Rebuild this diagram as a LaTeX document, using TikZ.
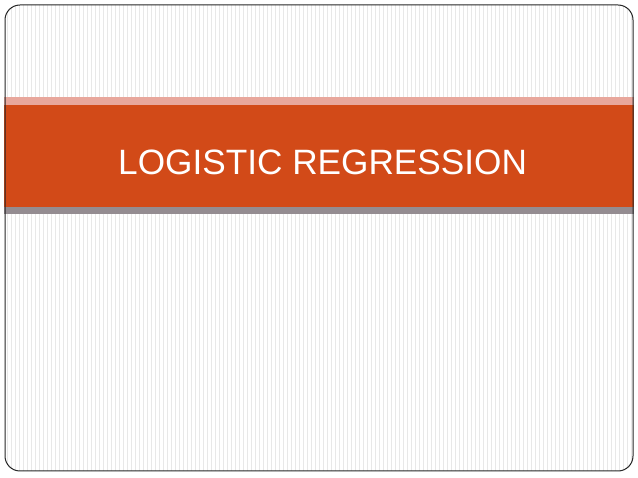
\documentclass[tikz,border=0pt]{standalone}
\usepackage{fontspec}
\setmainfont{Liberation Sans}
\definecolor{band}{HTML}{D24A18}
\definecolor{pinkband}{HTML}{E8A79C}
\definecolor{grayband}{HTML}{948C91}
\begin{document}
\begin{tikzpicture}[x=1pt,y=-1pt]
\useasboundingbox (0,0) rectangle (638,478);
\begin{scope}
\clip[rounded corners=15pt] (5,5) rectangle (633,471);
\foreach \i in {0,...,156} {\draw[black!9,line width=0.7pt] (7+4*\i,0) -- (7+4*\i,478);}
\end{scope}
\fill[pinkband] (4,97) rectangle (634,105);
\fill[band] (4,105) rectangle (634,207);
\fill[grayband] (4,207) rectangle (634,214);
\draw[black!85,line width=1pt,rounded corners=15pt] (5,5) rectangle (633,471);
\node[anchor=base west,inner sep=0pt,text=white,font=\fontsize{35.2}{40}\selectfont] (title) at (118,175) {LOGISTIC REGRESSION};
\end{tikzpicture}
\end{document}
